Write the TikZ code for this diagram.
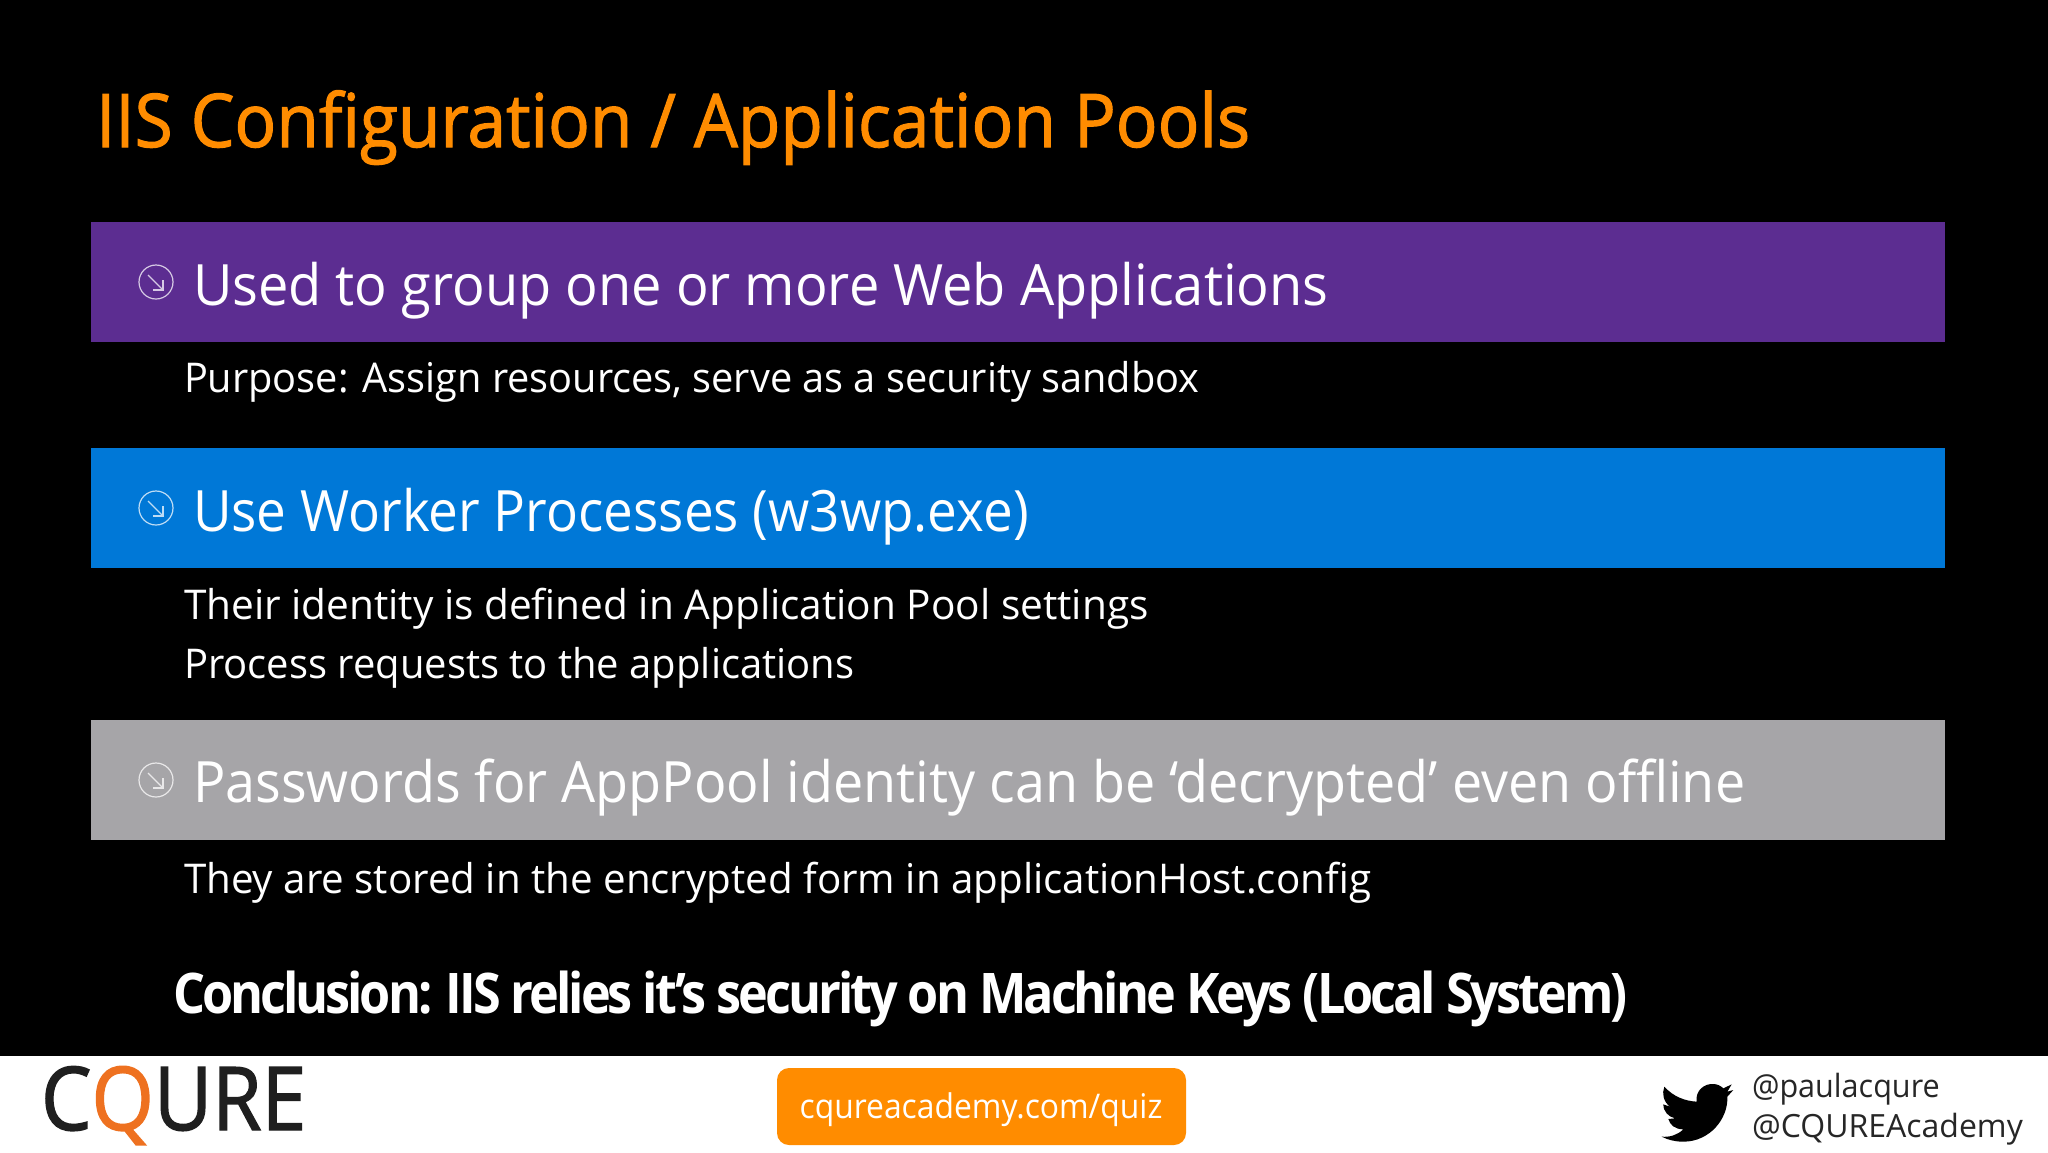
\documentclass[tikz,border=0pt]{standalone}
\usepackage{fontspec}
\usepackage{xcolor}
\setmainfont{Open Sans}
\newfontfamily\tightfont[LetterSpace=-6]{Open Sans}
\newfontfamily\heavyfont[FakeBold=1.6]{Open Sans}
\definecolor{iispurple}{HTML}{5C2D91}
\definecolor{iisblue}{HTML}{0078D7}
\definecolor{iisgray}{HTML}{A6A5A8}
\definecolor{iisorange}{HTML}{FF8C00}
\definecolor{logoorange}{HTML}{EE7120}
\definecolor{logoblack}{HTML}{1F1F1F}

\begin{document}
\begin{tikzpicture}[
        x=0.5pt, y=-0.5pt,
        every node/.style={inner sep=0pt, outer sep=0pt},
        bar/.style={rectangle, anchor=north west, minimum width=927pt, minimum height=60pt},
        bartext/.style={anchor=base west, text=white, xscale=0.95, font=\fontsize{28.5}{32}\selectfont},
        subtext/.style={anchor=base west, text=white, xscale=0.969, font=\fontsize{20.5}{24}\selectfont},
        ring/.style={circle, draw=#1, line width=0.6pt, minimum size=17pt},
        iconline/.style={draw=#1, line width=0.6pt},
        handle/.style={anchor=base west, text=black!85, font=\fontsize{16}{18}\selectfont}
    ]
        \useasboundingbox (0,0) rectangle (2048,1152);
        \fill[black] (0,0) rectangle (2048,1056);
        \fill[white] (0,1056) rectangle (2048,1152);

        \node[anchor=base west, text=iisorange, xscale=0.937, font=\heavyfont\fontsize{37}{40}\selectfont] (title) at (96,147) {IIS Configuration / Application Pools};

        \node[bar, fill=iispurple] (bar1) at (91,222) {};
        \node[bar, fill=iisblue] (bar2) at (91,448) {};
        \node[bar, fill=iisgray] (bar3) at (91,720) {};

        % arrow icons on the bars
        \foreach \name/\ypos/\tint in {icon1/282/iispurple!25!white, icon2/508/iisblue!25!white, icon3/780/iisgray!25!white} {
            \node[ring=\tint] (\name) at (156,\ypos) {};
            \draw[iconline=\tint] (148,\ypos-7) -- (163,\ypos+8);
            \draw[iconline=\tint] (163,\ypos-2) -- (163,\ypos+8) -- (153,\ypos+8);
        }

        \node[bartext] (head1) at (193,305) {Used to group one or more Web Applications};
        \node[subtext] (sub1) at (184,392) {Purpose: Assign resources, serve as a security sandbox};

        \node[bartext, xscale=0.979] (head2) at (193,531) {Use Worker Processes (w3wp.exe)};
        \node[subtext, xscale=1.021] (sub2) at (184,619) {Their identity is defined in Application Pool settings};
        \node[subtext, xscale=1.006] (sub3) at (184,678) {Process requests to the applications};

        \node[bartext, xscale=0.995] (head3) at (193,802) {Passwords for AppPool identity can be ‘decrypted’ even offline};
        \node[subtext, xscale=1.0145] (sub4) at (184,893) {They are stored in the encrypted form in applicationHost.config};

        \node[anchor=base west, text=white, xscale=0.899, font=\tightfont\bfseries\fontsize{28}{32}\selectfont] (concl) at (173,1013) {Conclusion: IIS relies it’s security on Machine Keys (Local System)};

        % footer
        \node[anchor=base west, text=logoblack, xscale=0.91, font=\heavyfont\fontsize{44}{48}\selectfont] (logo) at (41,1130) {C\textcolor{logoorange}{Q}URE};

        \node[rectangle, rounded corners=6pt, fill=iisorange, anchor=north west, minimum width=204.5pt, minimum height=38.5pt] (quiz) at (777,1068) {};
        \node[anchor=base, text=white, xscale=0.936, font=\fontsize{17}{20}\selectfont] (quiztext) at (981,1118) {cqureacademy.com/quiz};

        \node[handle, xscale=0.955] (handle1) at (1752,1097) {@paulacqure};
        \node[handle] (handle2) at (1752,1137) {@CQUREAcademy};

        % twitter bird
        \begin{scope}[shift={(1620,1040)}, x=0.5pt/3, y=-0.5pt/3]
            \fill[black] (133,140) .. controls (160,170) and (195,183) .. (230,185)
                .. controls (225,150) and (255,130) .. (280,132)
                .. controls (292,132) and (303,138) .. (310,145)
                -- (335,133) -- (322,155) -- (340,150) -- (322,170)
                .. controls (325,235) and (270,305) .. (190,305)
                .. controls (165,305) and (145,300) .. (125,290)
                .. controls (150,292) and (172,285) .. (190,268)
                .. controls (165,268) and (150,255) .. (145,237)
                -- (165,235)
                .. controls (145,230) and (130,215) .. (130,193)
                -- (150,200)
                .. controls (130,185) and (125,160) .. (133,140) -- cycle;
        \end{scope}
    \end{tikzpicture}
\end{document}
